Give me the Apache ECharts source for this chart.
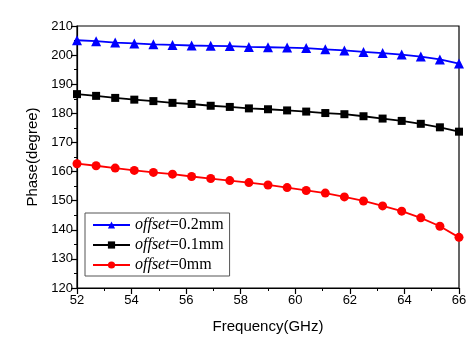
<!DOCTYPE html>
<html>
<head>
<meta charset="utf-8">
<script src="https://cdn.jsdelivr.net/npm/echarts@6/dist/echarts.min.js"></script>
<style>
  html, body { margin: 0; padding: 0; background: #fff; }
  #chart { width: 474px; height: 339px; }
</style>
</head>
<body>
<div id="chart"></div>
<script>
// Frequency sweep points (GHz)
const frequency = [52, 52.7, 53.4, 54.1, 54.8, 55.5, 56.2, 56.9, 57.6, 58.3, 59.0,
                   59.7, 60.4, 61.1, 61.8, 62.5, 63.2, 63.9, 64.6, 65.3, 66];

// Phase (degree) for each offset
const phaseOffset02 = [205.1, 204.8, 204.3, 204.0, 203.7, 203.5, 203.3, 203.2, 203.1, 202.8, 202.7,
                       202.6, 202.4, 202.0, 201.6, 201.1, 200.7, 200.2, 199.5, 198.5, 197.1];
const phaseOffset01 = [186.6, 186.0, 185.3, 184.7, 184.2, 183.6, 183.2, 182.6, 182.2, 181.7, 181.4,
                       181.0, 180.6, 180.1, 179.7, 179.0, 178.2, 177.4, 176.4, 175.2, 173.7];
const phaseOffset0  = [162.7, 162.0, 161.2, 160.4, 159.7, 159.1, 158.3, 157.6, 156.9, 156.2, 155.4,
                       154.5, 153.5, 152.6, 151.3, 149.9, 148.2, 146.4, 144.1, 141.2, 137.4];

const seriesNames = ['offset=0.2mm', 'offset=0.1mm', 'offset=0mm'];

const pairs = vals => frequency.map((f, i) => [f, vals[i]]);

const chart = echarts.init(document.getElementById('chart'));

const axisCommon = {
  axisLine: { show: true, onZero: false, lineStyle: { color: '#000', width: 1.2 } },
  axisTick: { show: true, inside: false, length: 6, lineStyle: { color: '#000', width: 1.2 } },
  minorTick: { show: true, splitNumber: 2, length: 3, lineStyle: { color: '#000', width: 1 } },
  splitLine: { show: false },
  axisLabel: { color: '#000', fontFamily: 'Liberation Sans, Arial, sans-serif', fontSize: 13 }
};

chart.setOption({
  animation: false,
  backgroundColor: '#fff',
  grid: {
    left: 77, right: 15, top: 26, bottom: 50,
    show: true, borderColor: '#000', borderWidth: 1.2, backgroundColor: 'transparent'
  },
  xAxis: Object.assign({}, axisCommon, {
    type: 'value', min: 52, max: 66, interval: 2,
    name: 'Frequency(GHz)', nameLocation: 'middle', nameGap: 31,
    nameTextStyle: { color: '#000', fontFamily: 'Liberation Sans, Arial, sans-serif', fontSize: 15 },
    axisLabel: Object.assign({}, axisCommon.axisLabel, { margin: 6 })
  }),
  yAxis: Object.assign({}, axisCommon, {
    type: 'value', min: 120, max: 210, interval: 10,
    name: 'Phase(degree)', nameLocation: 'middle', nameGap: 37, nameRotate: 90,
    nameTextStyle: { color: '#000', fontFamily: 'Liberation Sans, Arial, sans-serif', fontSize: 15 },
    axisLabel: Object.assign({}, axisCommon.axisLabel, { margin: 4 })
  }),
  legend: {
    orient: 'vertical',
    left: 85, top: 213,
    padding: [4, 6, 3, 7],
    itemGap: 4,
    itemWidth: 37, itemHeight: 9,
    borderColor: '#555', borderWidth: 1,
    backgroundColor: '#fff',
    data: seriesNames,
    formatter: name => {
      const parts = name.split('=');
      return '{i|' + parts[0] + '}{n|=' + parts[1] + '}';
    },
    textStyle: {
      padding: [0, 0, 0, 0],
      rich: {
        i: { fontFamily: 'Liberation Serif, Times New Roman, serif', fontStyle: 'italic', fontSize: 16, color: '#000', lineHeight: 17 },
        n: { fontFamily: 'Liberation Serif, Times New Roman, serif', fontSize: 16, color: '#000', lineHeight: 17 }
      }
    }
  },
  series: [
    {
      name: seriesNames[0], type: 'line', data: pairs(phaseOffset02),
      symbol: 'triangle', symbolSize: 10,
      lineStyle: { color: '#0000ff', width: 1.8 },
      itemStyle: { color: '#0000ff' }
    },
    {
      name: seriesNames[1], type: 'line', data: pairs(phaseOffset01),
      symbol: 'rect', symbolSize: 8,
      lineStyle: { color: '#000', width: 1.8 },
      itemStyle: { color: '#000' }
    },
    {
      name: seriesNames[2], type: 'line', data: pairs(phaseOffset0),
      symbol: 'circle', symbolSize: 9,
      lineStyle: { color: '#ff0000', width: 1.8 },
      itemStyle: { color: '#ff0000' }
    }
  ]
});
</script>
</body>
</html>
